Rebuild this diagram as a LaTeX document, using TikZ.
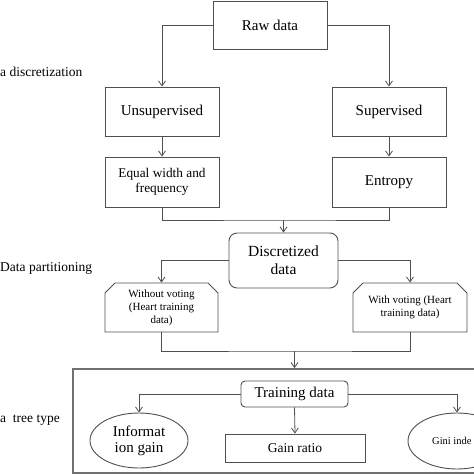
\documentclass[tikz,border=0pt]{standalone}
\usepackage{fontspec}
\setmainfont{Liberation Serif}
\usetikzlibrary{arrows.meta,shapes.geometric,shapes.misc}
\definecolor{ln}{HTML}{505050}
\definecolor{frm}{HTML}{707070}
\begin{document}
\begin{tikzpicture}[x=1pt,y=-1pt,
  box/.style={draw=ln,line width=0.9pt,rectangle,inner sep=1pt,align=center,text=black},
  rbox/.style={box,rounded corners=8pt},
  cbox/.style={draw=ln,line width=0.9pt,chamfered rectangle,chamfered rectangle corners={north west,north east},chamfered rectangle xsep=5pt,chamfered rectangle ysep=5pt,inner sep=1pt,align=center},
  ell/.style={draw=ln,line width=0.9pt,ellipse,inner sep=0pt,align=center},
  lab/.style={anchor=west,inner sep=0pt,font=\fontsize{13.5}{15}\selectfont},
  conn/.style={draw=ln,line width=0.8pt},
  arr/.style={conn,-{Straight Barb[length=5pt,width=7pt]}}]
\useasboundingbox (0,0) rectangle (474,474);
\fill[white] (0,0) rectangle (474,474);

\node[box,minimum width=114pt,minimum height=48pt,font=\fontsize{15}{17}\selectfont] (raw) at (270,25) {Raw data};
\node[box,minimum width=114pt,minimum height=49pt,font=\fontsize{15}{17}\selectfont] (unsup) at (162,111.5) {Unsupervised};
\node[box,minimum width=114pt,minimum height=49pt,font=\fontsize{15}{17}\selectfont] (sup) at (389,111.5) {Supervised};
\node[box,minimum width=114pt,minimum height=50pt,font=\fontsize{13.3}{15.5}\selectfont] (eq) at (162,182) {Equal width and\\frequency};
\node[box,minimum width=114pt,minimum height=50pt,font=\fontsize{15}{17}\selectfont] (ent) at (389,182) {Entropy};
\node[rbox,minimum width=109pt,minimum height=55pt,font=\fontsize{15.5}{18}\selectfont] (disc) at (283.5,260.5) {Discretized\\data};
\node[cbox,minimum width=113pt,minimum height=49pt,font=\fontsize{11}{13}\selectfont] (wov) at (161.5,307.5) {Without voting\\(Heart training\\data)};
\node[cbox,minimum width=114pt,minimum height=49pt,font=\fontsize{11}{13}\selectfont] (wv) at (410,307.5) {With voting (Heart\\training data)};

\node[draw=frm,line width=1.8pt,rectangle,minimum width=407pt,minimum height=104pt,inner sep=0pt] (frame) at (276.5,421) {};
\node[box,rounded corners=4pt,minimum width=107pt,minimum height=26pt,font=\fontsize{15}{17}\selectfont] (train) at (294.5,394) {Training data};
\node[box,minimum width=140pt,minimum height=28pt,font=\fontsize{13.5}{15}\selectfont] (gain) at (295,448) {Gain ratio};
\node[ell,minimum width=98pt,minimum height=55pt,font=\fontsize{15}{16}\selectfont] (info) at (139,440.5) {Informat\\ion gain};
\node[ell,minimum width=98pt,minimum height=56pt] (gini) at (457,441) {};
\node[anchor=west,inner sep=0pt,font=\fontsize{10.5}{12}\selectfont] (ginit) at (432,441) {Gini inde};

\node[lab] (l1) at (0,72) {a discretization};
\node[lab] (l2) at (0,268) {Data partitioning};
\node[lab] (l3) at (0,420) {a\ \ tree type};

\draw[arr] (raw.west) -| (unsup.north);
\draw[arr] (raw.east) -| (sup.north);
\draw[arr] (unsup.south) -- (eq.north);
\draw[arr] (sup.south) -- (ent.north);
\coordinate (j1) at (283.5,220);
\draw[conn] (eq.south) |- (j1) -| (ent.south);
\draw[arr] (j1) -- (disc.north);
\draw[arr] (disc.west) -| (wov.north);
\draw[arr] (disc.east) -| (wv.north);
\coordinate (j2) at (294.5,351);
\draw[conn] (wov.south) |- (j2) -| (wv.south);
\draw[arr] (j2) -- (j2 |- frame.north);
\draw[arr] (train.west) -| (info.north);
\draw[arr] (train.east) -| (gini.north);
\draw[arr] (train.south) -- (gain.north);
\end{tikzpicture}
\end{document}
